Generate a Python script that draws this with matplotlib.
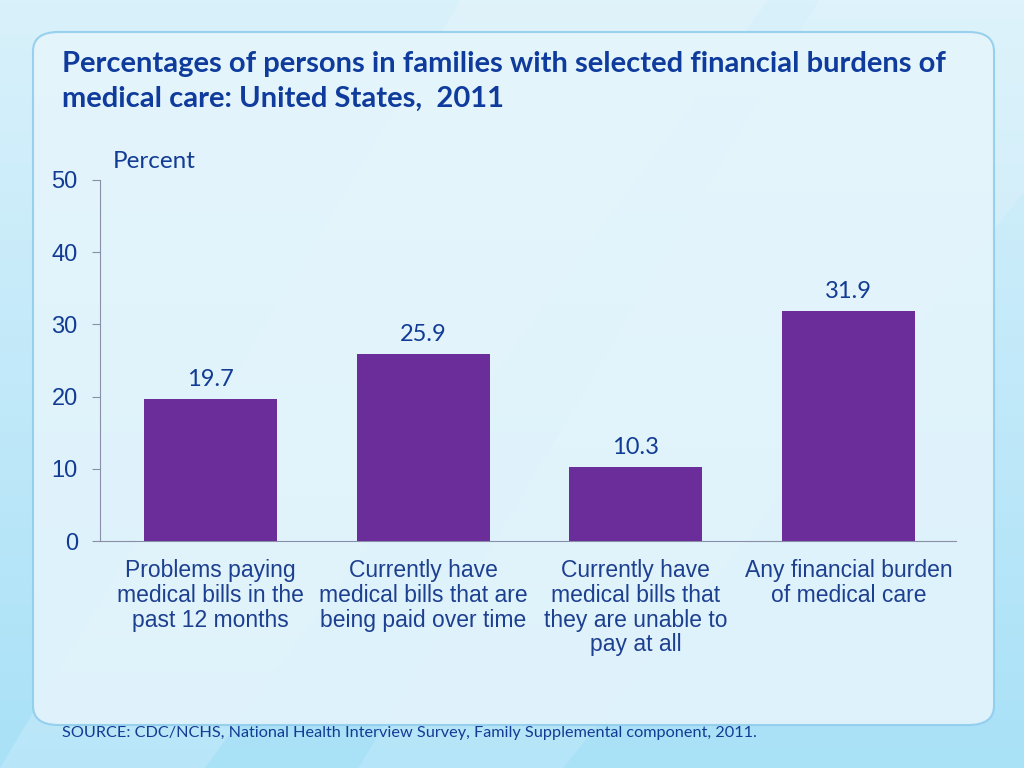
import numpy as np
import matplotlib.pyplot as plt
from matplotlib.patches import FancyBboxPatch, Polygon
from matplotlib.colors import LinearSegmentedColormap

categories = [
    "Problems paying\nmedical bills in the\npast 12 months",
    "Currently have\nmedical bills that are\nbeing paid over time",
    "Currently have\nmedical bills that\nthey are unable to\npay at all",
    "Any financial burden\nof medical care",
]
values = [19.7, 25.9, 10.3, 31.9]
value_labels = ["19.7", "25.9", "10.3", "31.9"]
yticks = [0, 10, 20, 30, 40, 50]

title = ("Percentages of persons in families with selected financial burdens of\n"
         "medical care: United States,  2011")
source = "SOURCE: CDC/NCHS, National Health Interview Survey, Family Supplemental component, 2011."

navy = "#123c94"
label_blue = "#1d3f8f"
bar_color = "#6a2d9a"

fig = plt.figure(figsize=(10.24, 7.68), dpi=100)

# background
bg = fig.add_axes([0, 0, 1, 1], zorder=-10)
bg.set_xlim(0, 1)
bg.set_ylim(0, 1)
bg.axis("off")
grad = np.linspace(0, 1, 256).reshape(-1, 1)
cmap_bg = LinearSegmentedColormap.from_list("bg", ["#a9e1f7", "#d9f1fb"])
bg.imshow(grad, cmap=cmap_bg, extent=[0, 1, 0, 1], aspect="auto", origin="lower")
for pts, a in [([(0.45, 1), (0.75, 1), (0.2, 0), (0.0, 0)], 0.18),
               ([(0.8, 1), (1.0, 1), (1.0, 0.75), (0.55, 0.0), (0.35, 0.0)], 0.15)]:
    bg.add_patch(Polygon(pts, closed=True, color="white", alpha=a, lw=0))

panel = FancyBboxPatch((33 / 1024, 1 - 725 / 768), 961 / 1024, 693 / 768,
                       boxstyle="round,pad=0,rounding_size=0.025",
                       facecolor="#e6f5fc", edgecolor="#8ccbec", lw=1.5,
                       alpha=0.85, transform=bg.transAxes)
bg.add_patch(panel)

ax = fig.add_axes([100 / 1024, 227 / 768, 856 / 1024, 361 / 768])
ax.patch.set_alpha(0)
x = np.arange(len(values))
ax.bar(x, values, width=0.625, color=bar_color, zorder=3)
for xi, v, lab in zip(x, values, value_labels):
    ax.text(xi, v + 1.2, lab, ha="center", va="bottom", fontsize=17,
            family="Lato", color=navy)

ax.set_xlim(-0.52, 3.505)
ax.set_ylim(0, 50)
ax.set_yticks(yticks)
ax.set_yticklabels([str(t) for t in yticks], fontsize=17,
                   family="Liberation Sans", color=navy)
ax.tick_params(axis="y", direction="out", length=6, color="#8a8fa8", pad=10)
ax.set_xticks(x)
ax.set_xticklabels(categories, fontsize=16.5, family="Liberation Sans",
                   color=label_blue, linespacing=1.1)
ax.tick_params(axis="x", length=0, pad=13)
for s in ["top", "right"]:
    ax.spines[s].set_visible(False)
ax.spines["left"].set_color("#8a8fa8")
ax.spines["bottom"].set_color("#8a8fa8")

fig.text(113 / 1024, 1 - 161 / 768, "Percent", fontsize=17.5, family="Lato",
         color=navy, va="center")
fig.text(62 / 1024, 1 - 51 / 768, title, fontsize=21, family="Lato",
         weight="bold", color="#0f3b9c", va="top", linespacing=1.4)
fig.text(62 / 1024, 1 - 733 / 768, source, fontsize=11.7, family="Lato",
         color=navy, va="center")

fig.savefig("out.png", dpi=100)
